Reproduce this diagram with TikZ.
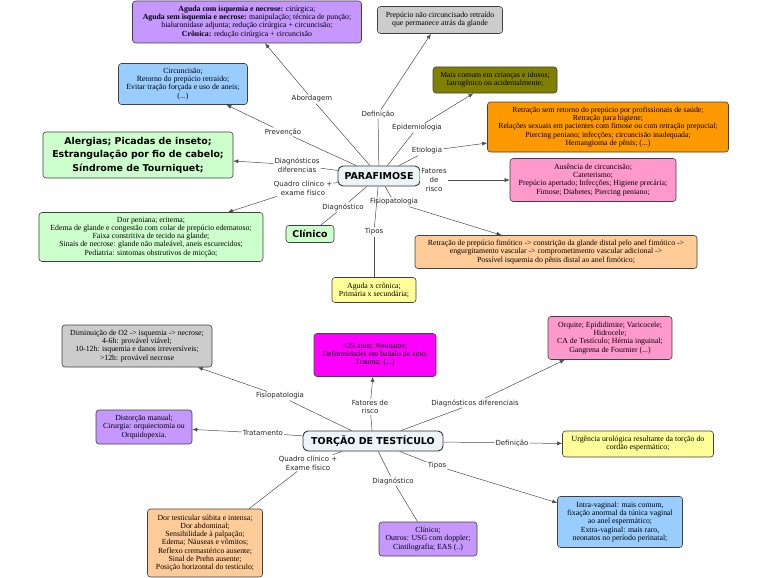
\documentclass[tikz,border=0pt]{standalone}
\usepackage{fontspec}
\setmainfont{Liberation Serif}
\setsansfont{DejaVu Sans}
\usepackage{xcolor}
\definecolor{cmapPurple}{RGB}{198,152,255}
\definecolor{cmapGray}{RGB}{204,204,204}
\definecolor{cmapBlue}{RGB}{153,204,255}
\definecolor{cmapGreen}{RGB}{204,255,204}
\definecolor{cmapYellow}{RGB}{255,255,153}
\definecolor{cmapPeach}{RGB}{255,204,153}
\definecolor{cmapPink}{RGB}{255,153,204}
\definecolor{cmapOrange}{RGB}{255,153,0}
\definecolor{cmapOlive}{RGB}{128,128,0}
\definecolor{cmapMagenta}{RGB}{255,0,255}
\definecolor{cmapHub}{RGB}{236,244,248}
\usepackage{tikz}
\usetikzlibrary{arrows.meta,positioning}
\tikzset{
  cmap box/.style={draw=black!75, rounded corners=3pt, line width=0.6pt, align=center, inner sep=1.5pt, font=\fontsize{7.8}{8.2}\selectfont},
  cmap bold box/.style={cmap box, font=\sffamily\bfseries\fontsize{9.4}{13.5}\selectfont},
  cmap hub/.style={draw=black!80, fill=cmapHub, rounded corners=5pt, line width=0.9pt, inner sep=3pt, font=\sffamily\bfseries\fontsize{9.5}{11}\selectfont},
  cmap label/.style={fill=white, inner sep=1pt, align=center, text=black!85, font=\sffamily\fontsize{7}{8.6}\selectfont},
  cmap link/.style={draw=black!70, line width=0.5pt},
  cmap arrow/.style={cmap link, -{Latex[length=5pt,width=4pt]}},
}

\begin{document}
\begin{tikzpicture}[x=1pt, y=-1pt]
  \useasboundingbox (0,0) rectangle (768,578);
  % Parafimose
  \node[cmap hub, minimum width=82pt, minimum height=20pt] (hubP) at (379,176) {PARAFIMOSE};
  \node[cmap box, fill=cmapPurple, minimum width=229pt, minimum height=42pt] (abord) at (247,22) {\textbf{Aguda com isquemia e necrose:} cirúrgica;\\\textbf{Aguda sem isquemia e necrose:} manipulação; técnica de punção;\\hialuronidase adjunta; redução cirúrgica + circuncisão;\\\textbf{Crônica:} redução cirúrgica + circuncisão};
  \node[cmap box, fill=cmapGray, minimum width=125pt, minimum height=27pt] (prep) at (440,20) {Prepúcio não circuncisado retraído\\que permanece atrás da glande};
  \node[cmap box, fill=cmapOlive, minimum width=124pt, minimum height=26pt] (epid) at (495,80) {Mais comum em crianças e idosos;\\Iatrogênico ou acidentalmente;};
  \node[cmap box, fill=cmapOrange, minimum width=241pt, minimum height=50pt] (etio) at (608,127) {Retração sem retorno do prepúcio por profissionais de saúde;\\Retração para higiene;\\Relações sexuais em pacientes com fimose ou com retração prepucial;\\Piercing peniano; infecções; circuncisão inadequada;\\Hemangioma de pênis; (...)};
  \node[cmap box, fill=cmapPink, minimum width=166pt, minimum height=43pt] (fator) at (593,180) {Ausência de circuncisão;\\Cateterismo;\\Prepúcio apertado; Infecções; Higiene precária;\\Fimose; Diabetes; Piercing peniano;};
  \node[cmap box, fill=cmapPeach, minimum width=282pt, minimum height=33pt] (fisio) at (556,252) {Retração de prepúcio fimótico -> constrição da glande distal pelo anel fimótico ->\\engurgitamento vascular -> comprometimento vascular adicional ->\\Possível isquemia do pênis distal ao anel fimótico;};
  \node[cmap box, fill=cmapYellow, minimum width=84pt, minimum height=25pt] (tipos) at (374,290) {Aguda x crônica;\\Primária x secundária;};
  \node[cmap bold box, fill=cmapGreen, minimum width=48pt, minimum height=17pt] (clin) at (310,234) {Clínico};
  \node[cmap box, fill=cmapGreen, minimum width=224pt, minimum height=49pt] (quadro) at (151,237) {Dor peniana; eritema;\\Edema de glande e congestão com colar de prepúcio edematoso;\\Faixa constritiva de tecido na glande;\\Sinais de necrose: glande não maleável, aneis escurecidos;\\Pediatria: sintomas obstrutivos de micção;};
  \node[cmap bold box, fill=cmapGreen, minimum width=190pt, minimum height=46pt] (difer) at (138,155) {Alergias; Picadas de inseto;\\Estrangulação por fio de cabelo;\\Síndrome de Tourniquet;};
  \node[cmap box, fill=cmapBlue, minimum width=129pt, minimum height=41pt] (prev) at (183,84) {Circuncisão;\\Retorno do prepúcio retraído;\\Evitar tração forçada e uso de aneis;\\(...)};
  \node[cmap label] (lAbord) at (312,99) {Abordagem};
  \node[cmap label] (lDef) at (378,114) {Definição};
  \node[cmap label] (lEpid) at (417,128) {Epidemiologia};
  \node[cmap label] (lEtio) at (427,151) {Etiologia};
  \node[cmap label] (lFat) at (434,180) {Fatores\\de\\risco};
  \node[cmap label] (lPrev) at (283,132) {Prevenção};
  \node[cmap label] (lDif) at (297,165) {Diagnósticos\\diferencias};
  \node[cmap label] (lQuad) at (303,188) {Quadro clínico +\\exame físico};
  \node[cmap label] (lDiag) at (343,207) {Diagnóstico};
  \node[cmap label] (lFisio) at (394,202) {Fisiopatologia};
  \node[cmap label] (lTipos) at (374,232) {Tipos};
  \foreach \lab in {lAbord,lDef,lEpid,lEtio,lFat,lPrev,lDif,lQuad,lDiag,lFisio,lTipos}
    \draw[cmap link] (hubP) -- (\lab);
  \draw[cmap arrow] (lAbord) -- (abord);
  \draw[cmap arrow] (lDef) -- (prep);
  \draw[cmap arrow] (lEpid) -- (epid);
  \draw[cmap arrow] (lEtio) -- (etio);
  \draw[cmap arrow] (lFat) -- (fator);
  \draw[cmap arrow] (lFisio) -- (fisio);
  \draw[cmap link] (lTipos) -- (tipos);
  \draw[cmap link] (lDiag) -- (clin);
  \draw[cmap arrow] (lQuad) -- (quadro);
  \draw[cmap arrow] (lDif) -- (difer);
  \draw[cmap arrow] (lPrev) -- (prev);
  % Torcao de testiculo
  \node[cmap hub, minimum width=140pt, minimum height=20pt] (hubT) at (373,441) {TORÇÃO DE TESTÍCULO};
  \node[cmap box, fill=cmapGray, minimum width=150pt, minimum height=42pt] (tFisio) at (137,346) {Diminuição de O2 -> isquemia -> necrose;\\4-6h: provável viável;\\10-12h: isquemia e danos irreversíveis;\\>12h: provável necrose};
  \node[cmap box, fill=cmapMagenta, minimum width=122pt, minimum height=43pt] (tFat) at (375,355) {<25 anos; Neonatos;\\Deformidades em badalo de sino;\\Trauma; (...)};
  \node[cmap box, fill=cmapPink, minimum width=124pt, minimum height=43pt] (tDif) at (610,338) {Orquite; Epididimite; Varicocele;\\Hidrocele;\\CA de Testículo; Hérnia inguinal;\\Gangrena de Fournier (...)};
  \node[cmap box, fill=cmapPurple, minimum width=96pt, minimum height=34pt] (tTrat) at (144,427) {Distorção manual;\\Cirurgia: orquiectomia ou\\Orquidopexia.};
  \node[cmap box, fill=cmapYellow, minimum width=151pt, minimum height=26pt] (tDef) at (638,444) {Urgência urológica resultante da torção do\\cordão espermático;};
  \node[cmap box, fill=cmapPeach, minimum width=115pt, minimum height=68pt] (tQuad) at (205,543) {Dor testicular súbita e intensa;\\Dor abdominal;\\Sensibilidade à palpação;\\Edema; Náuseas e vômitos;\\Reflexo cremastérico ausente;\\Sinal de Prehn ausente;\\Posição horizontal do testículo;};
  \node[cmap box, fill=cmapPurple, minimum width=98pt, minimum height=34pt] (tDiag) at (428,539) {Clínico;\\Outros: USG com doppler;\\Cintilografia; EAS (..)};
  \node[cmap box, fill=cmapBlue, minimum width=125pt, minimum height=51pt] (tTipos) at (620,522) {Intra-vaginal: mais comum,\\fixação anormal da túnica vaginal\\ao anel espermático;\\Extra-vaginal: mais raro,\\neonatos no período perinatal;};
  \node[cmap label] (ltFisio) at (280,396) {Fisiopatologia};
  \node[cmap label] (ltFat) at (370,407) {Fatores de\\risco};
  \node[cmap label] (ltDif) at (475,403) {Diagnósticos diferenciais};
  \node[cmap label] (ltTrat) at (263,433) {Tratamento};
  \node[cmap label] (ltDef) at (512,443) {Definição};
  \node[cmap label] (ltQuad) at (308,463) {Quadro clínico +\\Exame físico};
  \node[cmap label] (ltTipos) at (437,466) {Tipos};
  \node[cmap label] (ltDiag) at (393,481) {Diagnóstico};
  \foreach \lab in {ltFisio,ltFat,ltDif,ltTrat,ltDef,ltQuad,ltTipos,ltDiag}
    \draw[cmap link] (hubT) -- (\lab);
  \draw[cmap arrow] (ltFisio) -- (tFisio);
  \draw[cmap arrow] (ltFat) -- (tFat);
  \draw[cmap arrow] (ltDif) -- (tDif);
  \draw[cmap arrow] (ltTrat) -- (tTrat);
  \draw[cmap arrow] (ltDef) -- (tDef);
  \draw[cmap link] (ltQuad) -- (tQuad);
  \draw[cmap arrow] (ltTipos) -- (tTipos);
  \draw[cmap link] (ltDiag) -- (tDiag);
\end{tikzpicture}
\end{document}
